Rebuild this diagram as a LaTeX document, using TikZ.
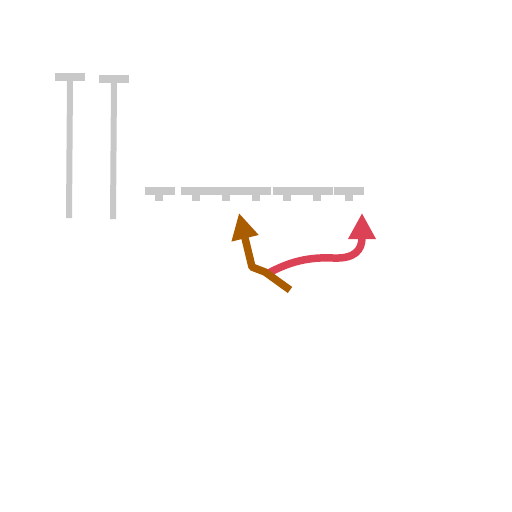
\documentclass[tikz,border=0pt]{standalone}
\usetikzlibrary{arrows.meta}
\definecolor{tgrey}{HTML}{C8C8C8}
\definecolor{tbrown}{HTML}{A95C00}
\definecolor{tred}{HTML}{DC4256}
\tikzset{
  tpart/.style={fill=tgrey, draw=none},
  bigarrow/.style={line width=7.5pt, -{Triangle[length=26pt,width=26pt]}},
}
\begin{document}
\begin{tikzpicture}[x=1pt,y=-1pt]
\useasboundingbox (0,0) rectangle (512,512);
% tall T's
\fill[tpart] (55,73) rectangle (85,81);
\fill[tpart] (67,81) -- (73,81) -- (72,218) -- (66,218) -- cycle;
\fill[tpart] (99,75) rectangle (129,83);
\fill[tpart] (111,83) -- (117,83) -- (116,219) -- (110,219) -- cycle;
% small T's
\foreach \a/\b/\s in {145/175/155, 181/211/192, 211/241/222, 241/271/252, 273/303/283, 303/333/313, 334/364/345}{
  \fill[tpart] (\a,187) rectangle (\b,195);
  \fill[tpart] (\s,195) rectangle (\s+8,201);
}
% arrows
\coordinate (bs) at (290,290);
\coordinate (b1) at (265,272);
\coordinate (b2) at (252,267);
\coordinate (bt) at (239,213);
\coordinate (rs) at (267,274);
\coordinate (rm) at (333,258);
\coordinate (rt) at (362,213);
\draw[bigarrow, tred] (rs) .. controls (290,261) and (310,257) .. (rm) .. controls (355,259) and (362,250) .. (rt);
\draw[bigarrow, tbrown, line join=round] (bs) -- (b1) -- (b2) -- (bt);
\end{tikzpicture}
\end{document}
